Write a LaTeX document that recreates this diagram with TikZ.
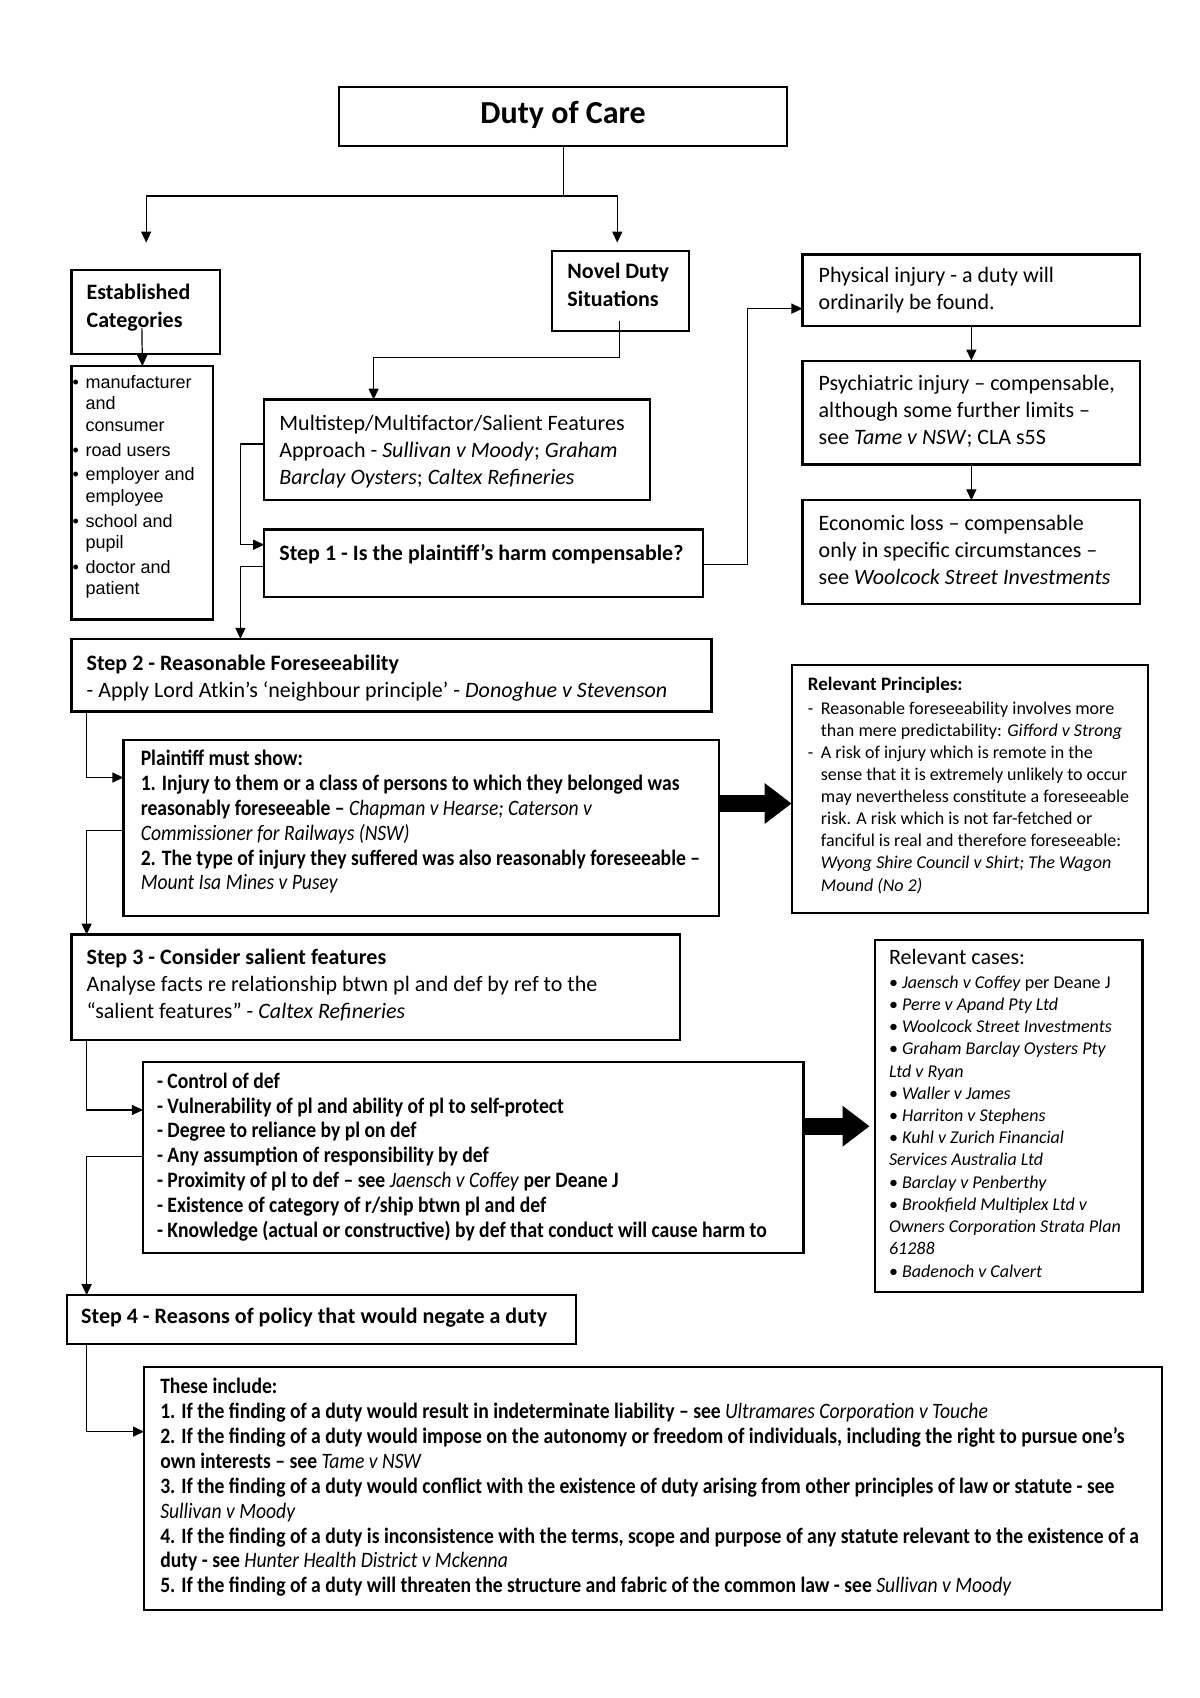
\documentclass[tikz,border=0pt]{standalone}
\usepackage{fontspec}
\setmainfont{Carlito}
\newfontfamily\cfont[FakeStretch=0.892]{Carlito}
\newfontfamily\afont{Liberation Sans}
\usetikzlibrary{arrows.meta}
\newcommand\uu{0.5412pt}
\newcommand\ital[1]{\textmd{\textit{#1}}}
\newcommand\bx[5]{\node[box, minimum width={(#4-#2)*\uu}, minimum height={(#5-#3)*\uu}] (#1) at ({(#2+#4)/2},{(#3+#5)/2}) {};}
\newcommand\tx[5]{\node[txt, font=#4] (#1) at (#2,#3) {\rule{0pt}{1em}#5};}
\begin{document}
\begin{tikzpicture}[x=0.5412pt,y=-0.5412pt,
  box/.style={draw, line width=1.1pt, inner sep=0pt, outer sep=0pt},
  txt/.style={anchor=north west, inner sep=0pt, outer sep=0pt, align=left},
  con/.style={line width=0.6pt},
  arr/.style={con, -{Triangle[length=5.5pt,width=5pt]}},
  blk/.style={line width=8.7pt, -{Triangle[length=13.5pt,width=19.5pt]}}]
\fill[white] (0,0) rectangle (1108,1568);
\path[use as bounding box] (0,0) rectangle (1108,1568);
% boxes
\bx{duty}{313}{80}{727}{135}
\bx{est}{66}{249}{203}{327}
\bx{cats}{66}{338}{197}{572}
\bx{nov}{510}{232}{636}{306}
\bx{ms}{244}{369}{600}{462}
\bx{s1}{244}{489}{649}{551}
\bx{ph}{741}{235}{1053}{301}
\bx{psy}{741}{333}{1053}{429}
\bx{eco}{741}{462}{1053}{558}
\bx{s2}{66}{590}{657}{657}
\bx{pl}{114}{683}{664}{846}
\bx{rp}{731}{614}{1060}{843}
\bx{s3}{66}{863}{628}{960}
\bx{sf}{132}{981}{742}{1157}
\bx{rc}{808}{868}{1055}{1193}
\bx{s4}{62}{1196}{532}{1241}
\bx{ti}{133}{1262}{1073}{1487}
% texts
\node[font=\bfseries\fontsize{16}{19}\selectfont, inner sep=0pt] (duty-t) at (520,106) {Duty of Care};
\tx{est-t}{80}{256.5}{\bfseries\fontsize{11}{14}\selectfont}{Established\\Categories}
\tx{cats-t}{67}{342}{\afont\fontsize{9}{10.8}\selectfont}{%
\makebox[6.5pt][l]{•}manufacturer\\\hspace*{6.5pt}and\\\hspace*{6.5pt}consumer\\[1.5pt]
\makebox[6.5pt][l]{•}road users\\[1.5pt]
\makebox[6.5pt][l]{•}employer and\\\hspace*{6.5pt}employee\\[1.5pt]
\makebox[6.5pt][l]{•}school and\\\hspace*{6.5pt}pupil\\[1.5pt]
\makebox[6.5pt][l]{•}doctor and\\\hspace*{6.5pt}patient}
\tx{nov-t}{524}{236.5}{\bfseries\fontsize{11}{14}\selectfont}{Novel Duty\\Situations}
\tx{ms-t}{258}{377.5}{\fontsize{11}{13.3}\selectfont}{Multistep/Multifactor/Salient Features\\Approach - \textit{Sullivan v Moody}; \textit{Graham}\\\textit{Barclay Oysters}; \textit{Caltex Refineries}}
\tx{s1-t}{258}{497.5}{\bfseries\fontsize{11}{13.4}\selectfont}{Step 1 - Is the plaintiff’s harm compensable?}
\tx{ph-t}{756}{240.5}{\fontsize{11}{13.5}\selectfont}{Physical injury - a duty will\\ordinarily be found.}
\tx{psy-t}{756}{340.5}{\fontsize{11}{13.5}\selectfont}{Psychiatric injury – compensable,\\although some further limits –\\see \textit{Tame v NSW}; CLA s5S}
\tx{eco-t}{756}{469.5}{\fontsize{11}{13.5}\selectfont}{Economic loss – compensable\\only in specific circumstances –\\see \textit{Woolcock Street Investments}}
\tx{s2-t}{80}{598.5}{\fontsize{11}{13.5}\selectfont}{\textbf{Step 2 - Reasonable Foreseeability}\\- Apply Lord Atkin’s ‘neighbour principle’ - \textit{Donoghue v Stevenson}}
\tx{pl-t}{130}{686.5}{\cfont\bfseries\fontsize{11}{12.45}\selectfont}{Plaintiff must show:\\
1. Injury to them or a class of persons to which they belonged was\\
reasonably foreseeable – \ital{Chapman v Hearse; Caterson v}\\
\ital{Commissioner for Railways (NSW)}\\
2. The type of injury they suffered was also reasonably foreseeable –\\
\ital{Mount Isa Mines v Pusey}}
\tx{rp-h}{746}{620.2}{\bfseries\fontsize{9.5}{11}\selectfont}{Relevant Principles:}
\tx{rp-t}{746}{643}{\fontsize{9}{11.04}\selectfont}{%
\makebox[6.5pt][l]{-}Reasonable foreseeability involves more\\
\hspace*{6.5pt}than mere predictability: \textit{Gifford v Strong}\\
\makebox[6.5pt][l]{-}A risk of injury which is remote in the\\
\hspace*{6.5pt}sense that it is extremely unlikely to occur\\
\hspace*{6.5pt}may nevertheless constitute a foreseeable\\
\hspace*{6.5pt}risk. A risk which is not far-fetched or\\
\hspace*{6.5pt}fanciful is real and therefore foreseeable:\\
\hspace*{6.5pt}\textit{Wyong Shire Council v Shirt; The Wagon}\\
\hspace*{6.5pt}\textit{Mound (No 2)}}
\tx{s3-t}{80}{870.5}{\fontsize{11}{13.5}\selectfont}{\textbf{Step 3 - Consider salient features}\\Analyse facts re relationship btwn pl and def by ref to the\\“salient features” - \textit{Caltex Refineries}}
\tx{sf-t}{145}{984.5}{\cfont\bfseries\fontsize{11}{12.45}\selectfont}{- Control of def\\
- Vulnerability of pl and ability of pl to self-protect\\
- Degree to reliance by pl on def\\
- Any assumption of responsibility by def\\
- Proximity of pl to def – see \ital{Jaensch v Coffey} per Deane J\\
- Existence of category of r/ship btwn pl and def\\
- Knowledge (actual or constructive) by def that conduct will cause harm to}
\tx{rc-h}{821}{870.5}{\fontsize{11}{13.5}\selectfont}{Relevant cases:}
\tx{rc-t}{821}{896}{\itshape\fontsize{9}{11.1}\selectfont}{%
\textup{•} Jaensch v Coffey \textup{per Deane J}\\
\textup{•} Perre v Apand Pty Ltd\\
\textup{•} Woolcock Street Investments\\
\textup{•} Graham Barclay Oysters Pty\\
Ltd v Ryan\\
\textup{•} Waller v James\\
\textup{•} Harriton v Stephens\\
\textup{•} Kuhl v Zurich Financial\\
Services Australia Ltd\\
\textup{•} Barclay v Penberthy\\
\textup{•} Brookfield Multiplex Ltd v\\
Owners Corporation Strata Plan\\
61288\\
\textup{•} Badenoch v Calvert}
\tx{s4-t}{75}{1201.5}{\bfseries\fontsize{11}{12.45}\selectfont}{Step 4 - Reasons of policy that would negate a duty}
\tx{ti-t}{148}{1266.5}{\cfont\bfseries\fontsize{11}{12.45}\selectfont}{These include:\\
1. If the finding of a duty would result in indeterminate liability – see \ital{Ultramares Corporation v Touche}\\
2. If the finding of a duty would impose on the autonomy or freedom of individuals, including the right to pursue one’s\\
own interests – see \ital{Tame v NSW}\\
3. If the finding of a duty would conflict with the existence of duty arising from other principles of law or statute - see\\
\ital{Sullivan v Moody}\\
4. If the finding of a duty is inconsistence with the terms, scope and purpose of any statute relevant to the existence of a\\
duty - see \ital{Hunter Health District v Mckenna}\\
5. If the finding of a duty will threaten the structure and fabric of the common law - see \ital{Sullivan v Moody}}
% connectors
\coordinate (eL) at (135,224);
\coordinate (nR) at (570,224);
\coordinate (ec) at (131,303);
\coordinate (ns) at (572,296);
\coordinate (mt) at (345,369);
\draw[arr] (duty.south) -- ++(0,46) -| (eL);
\draw[arr] (duty.south) -- ++(0,46) -| (nR);
\draw[arr] (ec) -- (cats.north);
\draw[arr] (ns) -- ++(0,34) -| (mt);
\draw[arr] (ms.west |- 0,410) -- ++(-22,0) |- (s1.west |- 0,503);
\draw[arr] (s1.east |- 0,521) -- ++(41,0) |- (ph.west |- 0,285);
\draw[arr] (s1.west |- 0,523) -| (s2.north -| 222,0);
\draw[arr] (ph.south) -- (psy.north);
\draw[arr] (psy.south) -- (eco.north);
\draw[arr] (s2.south -| 80,0) |- (pl.west |- 0,718);
\draw[arr] (pl.west |- 0,767) -| (s3.north -| 80,0);
\draw[blk] (pl.east |- 0,742) -- (rp.west |- 0,742);
\draw[arr] (s3.south -| 80,0) |- (sf.west |- 0,1025);
\draw[arr] (sf.west |- 0,1068) -| (s4.north -| 80,0);
\draw[blk, shorten >=2.7pt] (sf.east |- 0,1040) -- (rc.west |- 0,1040);
\draw[arr] (s4.south -| 80,0) |- (ti.west |- 0,1322);
\end{tikzpicture}
\end{document}
